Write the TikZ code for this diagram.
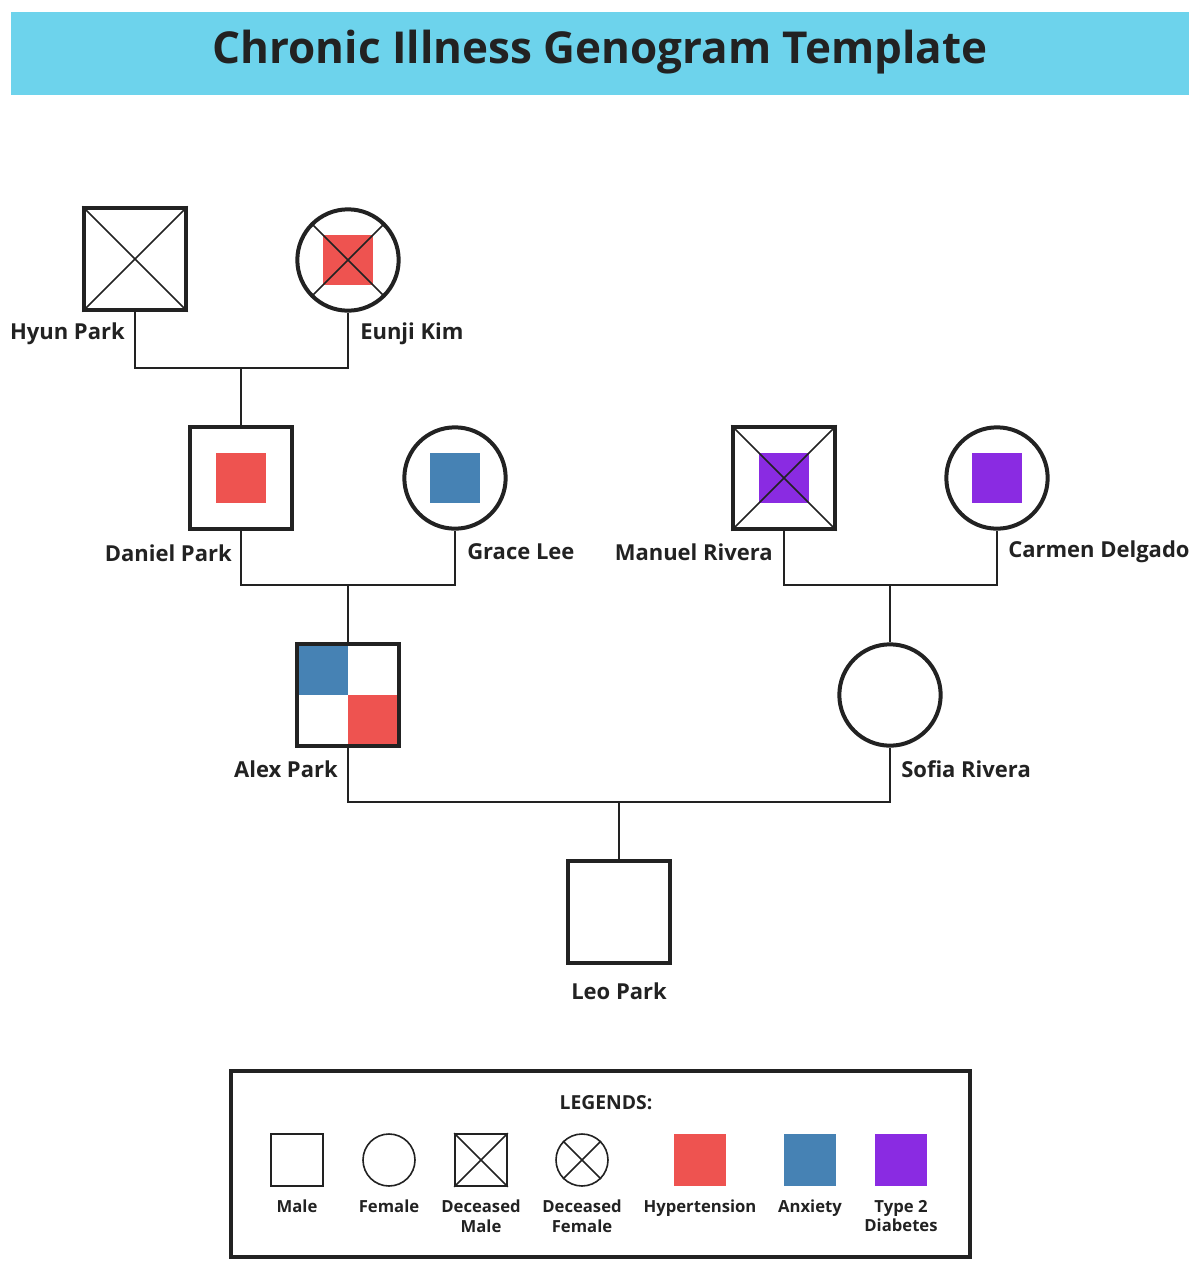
\documentclass[tikz,border=0pt]{standalone}
\usepackage{fontspec}
\setmainfont{Open Sans}
\usetikzlibrary{positioning}

\definecolor{hyper}{HTML}{EE5350}
\definecolor{anx}{HTML}{4682B4}
\definecolor{diab}{HTML}{8A2BE2}
\definecolor{titlebg}{HTML}{6DD3EC}
\definecolor{ink}{HTML}{222222}

\tikzset{
  male/.style={draw=ink, line width=3pt, minimum size=76pt, inner sep=0pt},
  female/.style={circle, draw=ink, line width=3pt, minimum size=76pt, inner sep=0pt},
  illness/.style={minimum size=37pt, inner sep=0pt},
  person/.style={font=\fontsize{16.5}{19}\selectfont\bfseries, text=ink, inner sep=0pt},
  tie/.style={draw=ink, line width=1.1pt},
  leg/.style={draw=ink, line width=1.2pt, minimum size=39pt, inner sep=0pt},
  legtext/.style={font=\fontsize{12.5}{14.5}\selectfont\bfseries, text=ink, align=center, inner sep=0pt}
}

\begin{document}
\begin{tikzpicture}[x=0.75pt, y=-0.75pt]
            \useasboundingbox (0,0) rectangle (1200,1268);

            % Title

            \fill[titlebg] (11,12) rectangle (1189,95);
            \node[font=\fontsize{33}{38}\selectfont\bfseries, text=ink] (title) at (600,52) {Chronic Illness Genogram Template};

            % Nodes

            \node[illness, fill=hyper] (eunjiM) at (348,260) {};
            \node[female] (eunji) at (348,260) {};
            \node[male] (hyun) at (135,259) {};
            \node[illness, fill=hyper] (danielM) at (241,478) {};
            \node[male] (daniel) at (241,478) {};
            \node[illness, fill=anx] (graceM) at (455,478) {};
            \node[female] (grace) at (455,478) {};
            \node[illness, fill=diab] (manuelM) at (784,478) {};
            \node[male] (manuel) at (784,478) {};
            \node[illness, fill=diab] (carmenM) at (997,478) {};
            \node[female] (carmen) at (997,478) {};
            \fill[anx] (296,643) rectangle (348,695);
            \fill[hyper] (348,695) rectangle (401,747);
            \node[male] (alex) at (348,695) {};
            \node[female] (sofia) at (890,695) {};
            \node[male] (leo) at (619,912) {};

            % Deceased marks

            \draw[ink, line width=1.1pt] (hyun.north west) -- (hyun.south east) (hyun.north east) -- (hyun.south west);
            \draw[ink, line width=1.1pt] (eunji.north west) -- (eunji.south east) (eunji.north east) -- (eunji.south west);
            \draw[ink, line width=1.1pt] (manuel.north west) -- (manuel.south east) (manuel.north east) -- (manuel.south west);

            % Names

            \node[person, anchor=east] (hyunL) at (125,334) {Hyun Park};
            \node[person, anchor=west] (eunjiL) at (360,334) {Eunji Kim};
            \node[person, anchor=east] (danielL) at (232,553) {Daniel Park};
            \node[person, anchor=west] (graceL) at (467,552) {Grace Lee};
            \node[person, anchor=east] (manuelL) at (773,552) {Manuel Rivera};
            \node[person, anchor=west] (carmenL) at (1008,552) {Carmen Delgado};
            \node[person, anchor=east] (alexL) at (338,769) {Alex Park};
            \node[person, anchor=west] (sofiaL) at (901,769) {Sofia Rivera};
            \node[person] (leoL) at (619,991) {Leo Park};

            % Edges

            \coordinate (c1) at (241,368);
            \coordinate (c2) at (348,585);
            \coordinate (c3) at (890,585);
            \coordinate (c4) at (619,802);
            \draw[tie] (hyun.south) |- (c1) -| (eunji.south);
            \draw[tie] (c1) -- (daniel.north);
            \draw[tie] (daniel.south) |- (c2) -| (grace.south);
            \draw[tie] (c2) -- (alex.north);
            \draw[tie] (manuel.south) |- (c3) -| (carmen.south);
            \draw[tie] (c3) -- (sofia.north);
            \draw[tie] (alex.south) |- (c4) -| (sofia.south);
            \draw[tie] (c4) -- (leo.north);

            % Legend

            \draw[ink, line width=2.4pt] (231,1071) rectangle (970,1257);
            \node[legtext, font=\fontsize{14.5}{16}\selectfont\bfseries] (legT) at (606,1103) {LEGENDS:};
            \node[leg] (lMale) at (297,1160) {};
            \node[leg, circle] (lFemale) at (389,1160) {};
            \node[leg] (lDM) at (481,1160) {};
            \node[leg, circle] (lDF) at (582,1160) {};
            \node[leg, draw=none, fill=hyper] (lHyp) at (700,1160) {};
            \node[leg, draw=none, fill=anx] (lAnx) at (810,1160) {};
            \node[leg, draw=none, fill=diab] (lDia) at (901,1160) {};
            \draw[ink, line width=1.1pt] (lDM.north west) -- (lDM.south east) (lDM.north east) -- (lDM.south west);
            \draw[ink, line width=1.1pt] (lDF.north west) -- (lDF.south east) (lDF.north east) -- (lDF.south west);
            \node[legtext, anchor=north] (tMale) at (297,1200) {Male};
            \node[legtext, anchor=north] (tFemale) at (389,1200) {Female};
            \node[legtext, anchor=north] (tDM) at (481,1200) {Deceased\\Male};
            \node[legtext, anchor=north] (tDF) at (582,1200) {Deceased\\Female};
            \node[legtext, anchor=north] (tHyp) at (700,1200) {Hypertension};
            \node[legtext, anchor=north] (tAnx) at (810,1200) {Anxiety};
            \node[legtext, anchor=north] (tDia) at (901,1200) {Type 2\\Diabetes};

\end{tikzpicture}
\end{document}
